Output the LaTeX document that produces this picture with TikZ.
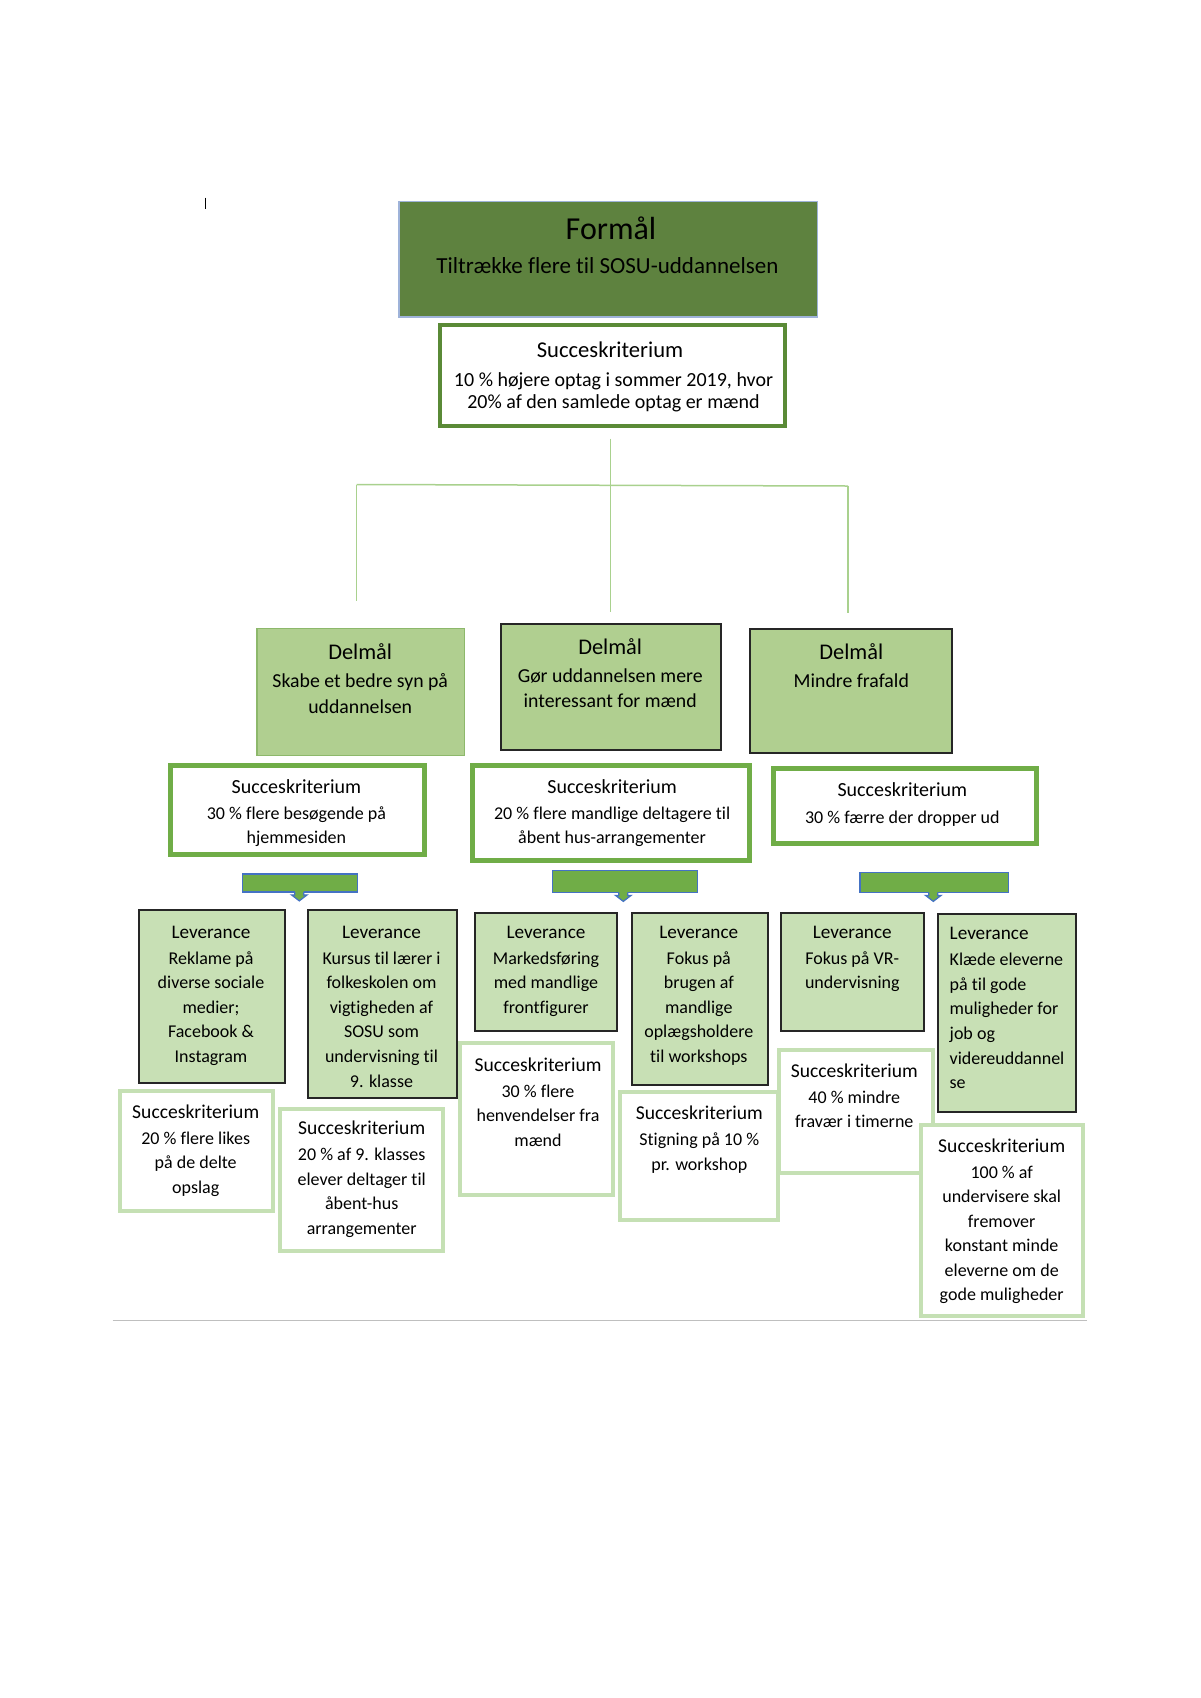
\documentclass[tikz,border=0pt]{standalone}
\usepackage{fontspec}
\setmainfont[Ligatures=NoCommon]{Carlito}
\usetikzlibrary{fit,calc}
\definecolor{formalfill}{HTML}{5E823F}
\definecolor{formalborder}{HTML}{9FB3D9}
\definecolor{topskborder}{HTML}{5A8A36}
\definecolor{delfill}{HTML}{B0CF90}
\definecolor{delborderA}{HTML}{8DB86B}
\definecolor{skborder}{HTML}{70AD47}
\definecolor{arrowfill}{HTML}{70AD47}
\definecolor{arrowborder}{HTML}{4472C4}
\definecolor{levfill}{HTML}{C8E0B5}
\definecolor{levborder}{HTML}{262626}
\definecolor{bskborder}{HTML}{C5E0B4}
\definecolor{treeline}{HTML}{A9D18E}
\definecolor{greyline}{HTML}{BFBFBF}
\newcommand{\fstrut}{\rule{0pt}{9pt}}
\newcommand{\calltip}[1]{%
  \path[fill=arrowfill] (#1) ++(-4.5,-10.5) -- ++(0,4.5) -- ++(-3.3,0) -- ++(7.8,6) -- ++(7.8,-6) -- ++(-3.3,0) -- ++(0,-4.5) -- cycle;
  \draw[draw=arrowborder, line width=0.6pt, line join=miter] (#1) ++(-4.5,-9) -- ++(0,3) -- ++(-3.3,0) -- ++(7.8,6) -- ++(7.8,-6) -- ++(-3.3,0) -- ++(0,-3);}
\begin{document}
\begin{tikzpicture}[x=0.5pt,y=-0.5pt,
  boxbase/.style={inner sep=0pt, outer sep=0pt},
  formalbox/.style={boxbase, fill=formalfill, draw=formalborder, line width=0.75pt},
  topskbox/.style={boxbase, fill=white, draw=topskborder, line width=2pt},
  delboxA/.style={boxbase, fill=delfill, draw=delborderA, line width=0.75pt},
  delbox/.style={boxbase, fill=delfill, draw=black!85, line width=1pt},
  skbox/.style={boxbase, fill=white, draw=skborder, line width=2.5pt},
  levbox/.style={boxbase, fill=levfill, draw=levborder, line width=1pt},
  bskbox/.style={boxbase, fill=white, draw=bskborder, line width=2pt},
  callbox/.style={boxbase, fill=arrowfill, draw=arrowborder, line width=0.6pt},
  tline/.style={draw=treeline, line width=0.75pt},
  ttl/.style={inner sep=0pt, anchor=base},
  txt/.style={inner sep=0pt, anchor=north, align=center},
  ftitle/.style={font=\fontsize{16}{19}\selectfont},
  fsub/.style={font=\fontsize{11.5}{14}\selectfont},
  ftop/.style={font=\fontsize{11.3}{13}\selectfont},
  ftopbody/.style={font=\fontsize{10}{11.15}\selectfont},
  fdel/.style={font=\fontsize{11.2}{13}\selectfont},
  fdelbody/.style={font=\fontsize{9.9}{13}\selectfont},
  fsk/.style={font=\fontsize{10}{12}\selectfont},
  fskbody/.style={font=\fontsize{9}{11.85}\selectfont},
  flev/.style={font=\fontsize{9.6}{12}\selectfont},
  flevbody/.style={font=\fontsize{9}{12.3}\selectfont},
  fbsk/.style={font=\fontsize{9.8}{12}\selectfont},
  fbskbody/.style={font=\fontsize{9}{12.25}\selectfont}
]
\useasboundingbox (0,0) rectangle (1200,1698);

% small tick
\coordinate (tk0) at (205.1,197.7);
\coordinate (tk1) at (205.1,209);
\draw[black, line width=0.5pt] (tk0) -- (tk1);

% Formaal
\node[formalbox, fit={(399,201.7) (817.6,317)}] (formal) {};
\node[ttl, ftitle] (formalt) at (611,239.5) {Formål};
\node[ttl, fsub] (formals) at (607.5,273.5) {Tiltrække flere til SOSU-uddannelsen};

% top succeskriterium
\node[topskbox, fit={(440.3,324.7) (784.7,426.3)}] (topsk) {};
\node[ttl, ftop] (topskt) at (610,357.5) {Succeskriterium};
\node[txt, ftopbody] (topskb) at (613.5,368) {\fstrut 10 \% højere optag i sommer 2019, hvor\\20\% af den samlede optag er mænd};

% tree lines
\coordinate (v0) at (610.7,438.7);
\coordinate (v1) at (610.7,611.7);
\coordinate (hl) at (356.6,484.5);
\coordinate (hr) at (848,486);
\coordinate (hl1) at (356.6,601);
\coordinate (hr1) at (848,613.3);
\draw[tline] (v0) -- (v1);
\draw[tline] (hl) -- (hr);
\draw[tline] (hl) -- (hl1);
\draw[tline] (hr) -- (hr1);

% Delmaal
\node[delboxA, fit={(257,628.4) (464.7,755.3)}] (d1) {};
\node[ttl, fdel] (d1t) at (360.2,659) {Delmål};
\node[txt, fdelbody] (d1b) at (360.2,669) {\fstrut Skabe et bedre syn på\\uddannelsen};
\node[delbox, fit={(500.9,624.3) (720.8,749.7)}] (d2) {};
\node[ttl, fdel] (d2t) at (610.2,654) {Delmål};
\node[txt, fdelbody, font=\fontsize{9.9}{12.5}\selectfont] (d2b) at (610.2,664) {\fstrut Gør uddannelsen mere\\interessant for mænd};
\node[delbox, fit={(749.6,628.7) (952.3,753.3)}] (d3) {};
\node[ttl, fdel] (d3t) at (851.3,659) {Delmål};
\node[ttl, fdelbody] (d3b) at (851.3,687) {Mindre frafald};

% Succeskriterium level 2
\node[skbox, fit={(170.7,765.8) (424.7,854.8)}] (ska) {};
\node[ttl, fsk] (skat) at (296.4,793) {Succeskriterium};
\node[txt, fskbody] (skab) at (296.4,801.5) {\fstrut 30 \% flere besøgende på\\hjemmesiden};
\node[skbox, fit={(472.4,765.8) (749.3,860.8)}] (skb) {};
\node[ttl, fsk] (skbt) at (612.1,793) {Succeskriterium};
\node[txt, fskbody] (skbb) at (612.1,801.5) {\fstrut 20 \% flere mandlige deltagere til\\åbent hus-arrangementer};
\node[skbox, fit={(773.4,768.5) (1036.3,843.5)}] (skc) {};
\node[ttl, fsk] (skct) at (902.3,796.5) {Succeskriterium};
\node[ttl, fskbody] (skcb) at (902.3,823.5) {30 \% færre der dropper ud};

% callouts
\node[callbox, fit={(242.2,873.9) (357.7,891.9)}] (a1) {};
\coordinate (a1tip) at ($(a1.south)+(-0.65,9)$);
\calltip{a1tip}
\node[callbox, fit={(552.1,870.6) (697.7,892.1)}] (a2) {};
\coordinate (a2tip) at ($(a2.south)+(-1.6,9.3)$);
\calltip{a2tip}
\node[callbox, fit={(859.9,872.3) (1008.7,892.1)}] (a3) {};
\coordinate (a3tip) at ($(a3.south)+(-1,9.3)$);
\calltip{a3tip}

% Leverance boxes
\node[levbox, fit={(139.3,910.3) (284.7,1083)}] (l1) {};
\node[ttl, flev] (l1t) at (211,938) {Leverance};
\node[txt, flevbody] (l1b) at (211,945.7) {\fstrut Reklame på\\diverse sociale\\medier;\\Facebook \&\\Instagram};
\node[levbox, fit={(307.7,910.3) (457.3,1098)}] (l2) {};
\node[ttl, flev] (l2t) at (381.5,938) {Leverance};
\node[txt, flevbody] (l2b) at (381.5,945.7) {\fstrut Kursus til lærer i\\folkeskolen om\\vigtigheden af\\SOSU som\\undervisning til\\9. klasse};
\node[levbox, fit={(475,912.7) (617.3,1030.7)}] (l3) {};
\node[ttl, flev] (l3t) at (546,938) {Leverance};
\node[txt, flevbody] (l3b) at (546,945.7) {\fstrut Markedsføring\\med mandlige\\frontfigurer};
\node[levbox, fit={(631.7,912.7) (768.3,1084.7)}] (l4) {};
\node[ttl, flev] (l4t) at (698.8,938) {Leverance};
\node[txt, flevbody] (l4b) at (698.8,945.7) {\fstrut Fokus på\\brugen af\\mandlige\\oplægsholdere\\til workshops};
\node[levbox, fit={(781,912.7) (924,1030.7)}] (l5) {};
\node[ttl, flev] (l5t) at (852.3,938) {Leverance};
\node[txt, flevbody] (l5b) at (852.3,945.7) {\fstrut Fokus på VR-\\undervisning};
\node[levbox, fit={(938.3,913.7) (1076.3,1112.3)}] (l6) {};
\node[ttl, flev, anchor=base west] (l6t) at (949.3,939.7) {Leverance};
\node[txt, flevbody, anchor=north west, align=left] (l6b) at (949.3,947.3) {\fstrut Klæde eleverne\\på til gode\\muligheder for\\job og\\videreuddannel\\se};

% grey rule
\coordinate (g0) at (112.6,1320.5);
\coordinate (g1) at (1086.7,1320.5);
\draw[greyline, line width=0.75pt] (g0) -- (g1);

% bottom Succeskriterium boxes
\node[bskbox, fit={(120.3,1091) (273,1210.7)}] (s1) {};
\node[ttl, fbsk] (s1t) at (195.7,1118) {Succeskriterium};
\node[txt, fbskbody] (s1b) at (195.7,1125.7) {\fstrut 20 \% flere likes\\på de delte\\opslag};
\node[bskbox, fit={(280.3,1108.7) (443,1251.3)}] (s2) {};
\node[ttl, fbsk] (s2t) at (361.7,1134.3) {Succeskriterium};
\node[txt, fbskbody] (s2b) at (361.7,1142.3) {\fstrut 20 \% af 9. klasses\\elever deltager til\\åbent-hus\\arrangementer};
\node[bskbox, fit={(460.3,1043) (613,1194.5)}] (s3) {};
\node[ttl, fbsk] (s3t) at (538,1071.3) {Succeskriterium};
\node[txt, fbskbody] (s3b) at (538,1079) {\fstrut 30 \% flere\\henvendelser fra\\mænd};
\node[bskbox, fit={(620.3,1092) (778,1219.7)}] (s4) {};
\node[ttl, fbsk] (s4t) at (699.3,1119.7) {Succeskriterium};
\node[txt, fbskbody] (s4b) at (699.3,1127.3) {\fstrut Stigning på 10 \%\\pr. workshop};
\node[bskbox, fit={(778.7,1050.3) (933,1173)}] (s5) {};
\node[ttl, fbsk] (s5t) at (854.3,1077.7) {Succeskriterium};
\node[txt, fbskbody] (s5b) at (854.3,1085) {\fstrut 40 \% mindre\\fravær i timerne};
\node[bskbox, fit={(921.3,1124.7) (1083,1316.3)}] (s6) {};
\node[ttl, fbsk] (s6t) at (1001.7,1152) {Succeskriterium};
\node[txt, fbskbody] (s6b) at (1001.7,1159.7) {\fstrut 100 \% af\\undervisere skal\\fremover\\konstant minde\\eleverne om de\\gode muligheder};
\end{tikzpicture}
\end{document}
